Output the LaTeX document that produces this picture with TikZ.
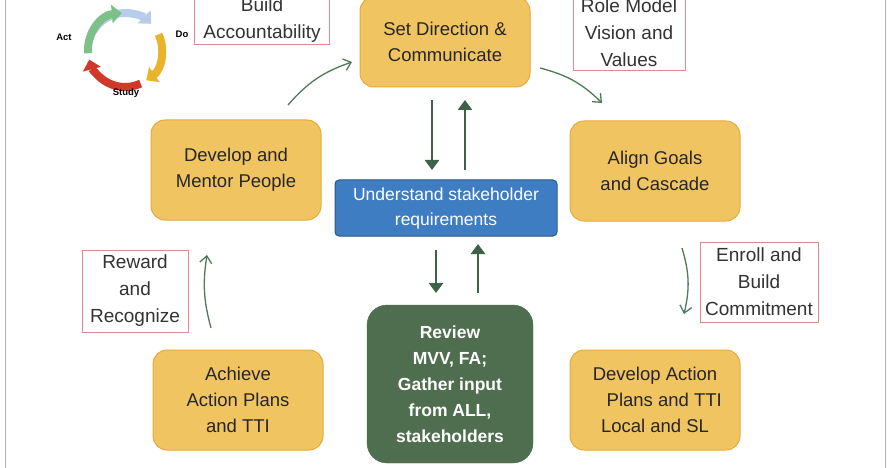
\documentclass[tikz,border=0pt]{standalone}
\usepackage{fontspec}
\setmainfont{Liberation Sans}
\usetikzlibrary{arrows.meta}
\definecolor{ybox}{HTML}{F1C462}
\definecolor{yedge}{HTML}{E8A93A}
\definecolor{gbox}{HTML}{4E6E4F}
\definecolor{bbox}{HTML}{3F7DC2}
\definecolor{arr}{HTML}{4E7A5A}
\definecolor{redge}{HTML}{E08A8A}
\definecolor{pb}{HTML}{B8CDEB}
\definecolor{pg}{HTML}{7DC08A}
\definecolor{pr}{HTML}{CF3A28}
\definecolor{py}{HTML}{E9B42A}
\begin{document}
\begin{tikzpicture}[x=1pt,y=-1pt,
 yb/.style={draw=yedge,fill=ybox,rounded corners=14pt,line width=1pt,minimum width=170pt,minimum height=100pt,align=center,font=\fontsize{18.5}{26}\selectfont,text=black!85},
 lb/.style={draw=redge,fill=white,align=center,font=\fontsize{19}{27}\selectfont,text=black!80,inner sep=2pt},
 ca/.style={draw=arr,line width=1.3pt,-{Straight Barb[length=7pt,width=12pt]}},
 ta/.style={draw=arr!80!black,line width=2.5pt,-{Triangle[length=10pt,width=14pt]}},
 pd/.style={line width=8pt,-{Triangle[length=10pt,width=18pt]}}]
\useasboundingbox (0,0) rectangle (892,468);
\draw[gray!60,line width=1pt] (5,0)--(5,468) (885,0)--(885,468);
% PDCA
\begin{scope}[shift={(125,50)},yscale=-1]
\draw[pd,color=pb] (150:37) arc[start angle=150,end angle=45,radius=37];
\draw[pd,color=py] (25:37) arc[start angle=25,end angle=-55,radius=37];
\draw[pd,color=pr] (-65:37) arc[start angle=-65,end angle=-165,radius=37];
\draw[pd,color=pg] (-175:37) arc[start angle=185,end angle=95,radius=37];
\end{scope}
\node[font=\bfseries\fontsize{9.5}{10}\selectfont] (act) at (64,37) {Act};
\node[font=\bfseries\fontsize{9.5}{10}\selectfont] (do) at (182,34) {Do};
\node[font=\bfseries\fontsize{9.5}{10}\selectfont] (st) at (126,93) {Study};
% boxes
\node[yb,minimum height=90pt] (sd) at (445,42) {Set Direction \&\\Communicate};
\node[yb] (ag) at (655,171) {Align Goals\\and Cascade};
\node[yb] (dm) at (236,170) {Develop and\\Mentor People};
\node[yb] (aa) at (238,400) {Achieve\\Action Plans\\and TTI};
\node[yb] (da) at (655,400) {Develop Action\\\quad Plans and TTI\\Local and SL};
\node[draw=bbox!70!black,fill=bbox,rounded corners=4pt,line width=1pt,minimum width=222pt,minimum height=56pt,align=center,text=white,font=\fontsize{17.5}{25}\selectfont] (us) at (446,208) {Understand stakeholder\\requirements};
\node[draw=gbox,fill=gbox,rounded corners=20pt,minimum width=166pt,minimum height=158pt,align=center,text=white,font=\bfseries\fontsize{17.5}{26}\selectfont] (rv) at (450,384) {Review\\MVV, FA;\\Gather input\\from ALL,\\stakeholders};
\node[lb,minimum width=135pt,minimum height=46pt] (ba) at (262,20) {Build\\Accountability};
\node[lb,minimum width=112pt,minimum height=74pt] (rm) at (629,33) {Role Model\\Vision and\\Values};
\node[lb,minimum width=118pt,minimum height=80pt] (en) at (759,282) {Enroll and\\Build\\Commitment};
\node[lb,minimum width=106pt,minimum height=82pt] (rw) at (135,291) {Reward\\and\\Recognize};
% curved arrows
\coordinate (c1) at (288,105); \coordinate (c2) at (352,62);
\draw[ca] (c1) to[bend left=15] (c2);
\coordinate (c3) at (540,68); \coordinate (c4) at (602,103);
\draw[ca] (c3) to[bend left=15] (c4);
\coordinate (c5) at (682,248); \coordinate (c6) at (684,314);
\draw[ca] (c5) to[bend left=15] (c6);
\coordinate (c7) at (211,328); \coordinate (c8) at (207,255);
\draw[ca] (c7) to[bend left=12] (c8);
% thick arrows
\draw[ta] (432,100)--(432,170);
\draw[ta] (465,170)--(465,100);
\draw[ta] (436,250)--(436,293);
\draw[ta] (478,293)--(478,244);
\end{tikzpicture}
\end{document}
